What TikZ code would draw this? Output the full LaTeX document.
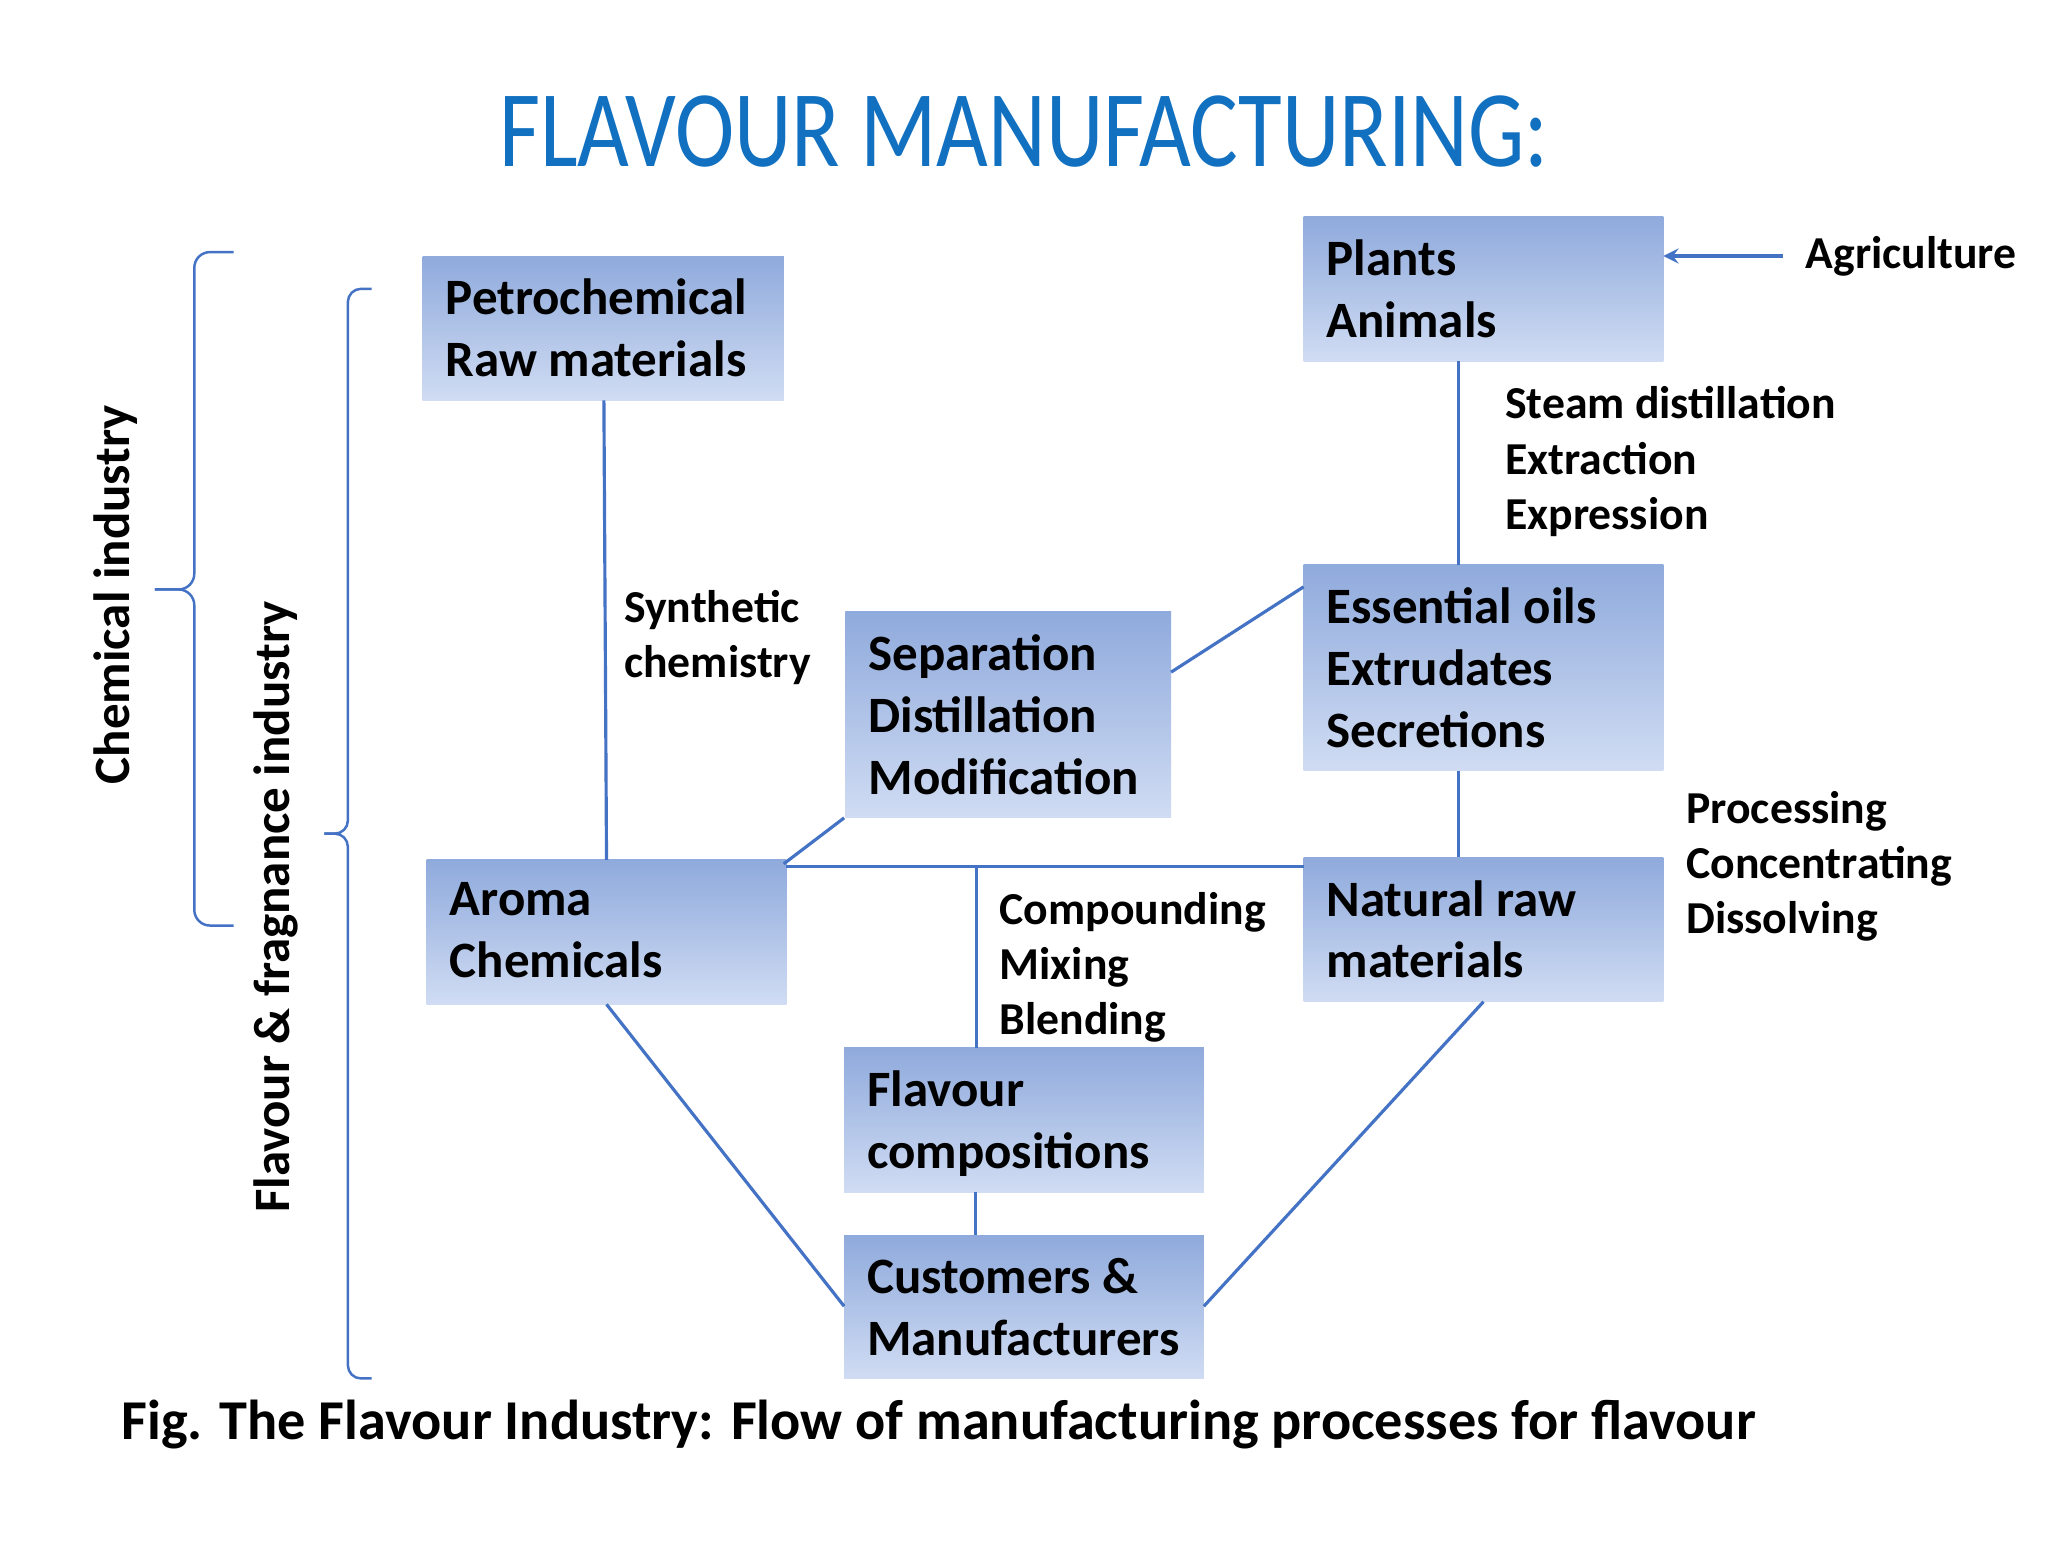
\documentclass[tikz,border=0pt]{standalone}
\usepackage{fontspec}
\setmainfont{Carlito}
\definecolor{boxtop}{RGB}{143,170,220}
\definecolor{boxbot}{RGB}{208,220,243}
\definecolor{lnc}{RGB}{68,114,196}
\definecolor{titlec}{RGB}{17,112,192}
\begin{document}
\begin{tikzpicture}[x=0.013128cm,y=-0.013128cm,
  bx/.style={draw=none,top color=boxtop,bottom color=boxbot},
  bt/.style={anchor=north west,align=left,font=\bfseries\fontsize{14.5}{17.6}\selectfont,inner sep=0pt},
  lb/.style={anchor=north west,align=left,font=\bfseries\fontsize{13}{15.7}\selectfont,inner sep=0pt},
  ln/.style={draw=lnc,line width=0.9pt}]
\useasboundingbox (0,0) rectangle (1560,1176);
\fill[white] (0,0) rectangle (1560,1176);
\node[font=\fontsize{31}{31}\selectfont,text=titlec,inner sep=0pt,xscale=0.82] (title) at (780,100) {FLAVOUR MANUFACTURING:};
% boxes
\foreach \n/\x/\y/\w/\h in {petro/322/195/275/110,plants/993/165/274/110,ess/993/430/274/157,sep/644/466/248/157,aroma/325/655/274/110,nat/993/653/274/110,flav/643/798/274/110,cust/643/941/274/109}{
  \path[bx] (\x,\y) rectangle ++(\w,\h);
}
\node[bt] (tpetro) at (339,212) {Petrochemical\\Raw materials};
\node[bt] (tplants) at (1010,182) {Plants\\Animals};
\node[bt] (tess) at (1010,447) {Essential oils\\Extrudates\\Secretions};
\node[bt] (tsep) at (661,483) {Separation\\Distillation\\Modification};
\node[bt] (taroma) at (342,672) {Aroma\\Chemicals};
\node[bt] (tnat) at (1010,670) {Natural raw\\materials};
\node[bt] (tflav) at (660,815) {Flavour\\compositions};
\node[bt] (tcust) at (660,958) {Customers \&\\Manufacturers};
% connectors
\coordinate (p1) at (460,305); \coordinate (a1) at (462,655);
\draw[ln] (p1) -- (a1);
\coordinate (pl1) at (1111,275); \coordinate (e1) at (1111,430);
\draw[ln] (pl1) -- (e1);
\coordinate (e2) at (1111,587); \coordinate (n1) at (1111,653);
\draw[ln] (e2) -- (n1);
\coordinate (s1) at (892,512); \coordinate (e3) at (993,447);
\draw[ln] (s1) -- (e3);
\coordinate (s2) at (643,623); \coordinate (a2) at (597,658);
\draw[ln] (s2) -- (a2);
\coordinate (a3) at (599,660); \coordinate (n2) at (993,660);
\draw[ln] (a3) -- (n2);
\coordinate (m1) at (744,660); \coordinate (f1) at (744,798);
\draw[ln] (m1) -- (f1);
\coordinate (f2) at (743,908); \coordinate (c1) at (743,941);
\draw[ln] (f2) -- (c1);
\coordinate (a4) at (462,765); \coordinate (c2) at (643,995);
\draw[ln] (a4) -- (c2);
\coordinate (n3) at (1130,763); \coordinate (c3) at (917,995);
\draw[ln] (n3) -- (c3);
\coordinate (ag) at (1358,195); \coordinate (pl2) at (1267,195);
\draw[ln,->,>=stealth] (ag) -- (pl2);
% labels
\node[lb,anchor=west] (lag) at (1375,195) {Agriculture};
\node[lb] (lsteam) at (1146,294) {Steam distillation\\Extraction\\Expression};
\node[lb] (lsyn) at (475,449) {Synthetic\\chemistry};
\node[lb] (lcomp) at (761,679) {Compounding\\Mixing\\Blending};
\node[lb] (lproc) at (1284,602) {Processing\\Concentrating\\Dissolving};
\node[lb,anchor=west,font=\bfseries\fontsize{16}{16}\selectfont] (cap) at (92,1085) {Fig. The Flavour Industry: Flow of manufacturing processes for flavour};
% braces
\draw[ln,line width=0.7pt] (178,192) -- (160,192) to[out=180,in=90] (148,204) -- (148,437) to[out=-90,in=0] (136,449) -- (118,449);
\draw[ln,line width=0.7pt] (118,449) -- (136,449) to[out=0,in=90] (148,461) -- (148,693) to[out=-90,in=180] (160,705) -- (178,705);
\draw[ln,line width=0.7pt] (283,220) -- (275,220) to[out=180,in=90] (265,230) -- (265,625) to[out=-90,in=0] (255,635) -- (247,635);
\draw[ln,line width=0.7pt] (247,635) -- (255,635) to[out=0,in=90] (265,645) -- (265,1040) to[out=-90,in=180] (275,1050) -- (283,1050);
\node[rotate=90,font=\bfseries\fontsize{14.5}{14.5}\selectfont,inner sep=0pt] (lchem) at (88,453) {Chemical industry};
\node[rotate=90,font=\bfseries\fontsize{14.5}{14.5}\selectfont,inner sep=0pt] (lflav) at (210,691) {Flavour \& fragnance industry};
\end{tikzpicture}
\end{document}
